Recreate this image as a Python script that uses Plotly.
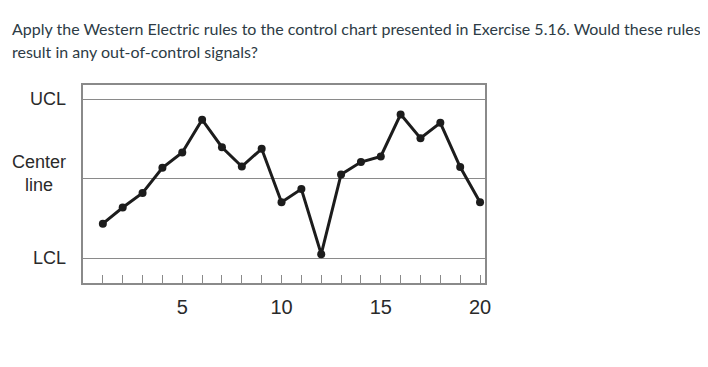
import plotly.graph_objects as go

samples = list(range(1, 21))
values = [-1.70, -1.09, -0.54, 0.41, 0.99, 2.23, 1.19, 0.46, 1.13, -0.89,
          -0.39, -2.85, 0.16, 0.63, 0.84, 2.43, 1.53, 2.11, 0.44, -0.89]
limit_vals = [-3, 0, 3]
limit_labels = ["LCL", "Center<br>line", "UCL"]
tick_vals = list(range(1, 21))
tick_text = [str(v) if v % 5 == 0 else "" for v in tick_vals]
title_lines = [
    "Apply the Western Electric rules to the control chart presented in Exercise 5.16. Would these rules",
    "result in any out-of-control signals?",
]

W, H = 708, 367
OFF = 8  # page body margin
# desired plot box in screen pixels: x 83..485, y 84.5..283
ML, MR, MT, MB = 83 - OFF, W - 485 + OFF, 85 - OFF, H - 283 + OFF
PW, PH = W - ML - MR, H - MT - MB

def px(x):
    return (x - OFF - ML) / PW

def py(y):
    return (H - MB - (y - OFF)) / PH

fig = go.Figure()
fig.add_trace(go.Scatter(
    x=samples, y=values, mode="lines+markers",
    line=dict(color="#1c1c1c", width=3),
    marker=dict(color="#1c1c1c", size=8),
    hoverinfo="skip", showlegend=False,
))

axis_font = "Liberation Sans, Arial, sans-serif"
fig.update_layout(
    width=W, height=H,
    margin=dict(l=ML, r=MR, t=MT, b=MB),
    paper_bgcolor="white", plot_bgcolor="white",
    xaxis=dict(
        range=[0, 20.25], tickmode="array", tickvals=tick_vals, ticktext=tick_text,
        ticks="inside", ticklen=8, tickcolor="#8a8a8a", tickwidth=1,
        showgrid=False, zeroline=False,
        showline=True, linecolor="#8a8a8a", linewidth=1.5, mirror=True,
        tickfont=dict(family=axis_font, size=20, color="#2a2a2a"),
        ticklabelstandoff=5,
    ),
    yaxis=dict(
        range=[-3.94, 3.54], tickmode="array", tickvals=limit_vals,
        showticklabels=False, ticks="",
        showgrid=True, gridcolor="#8a8a8a", gridwidth=1.2, zeroline=False,
        showline=True, linecolor="#8a8a8a", linewidth=1.5, mirror=True,
    ),
)

for v, lab in zip(limit_vals, limit_labels):
    fig.add_annotation(
        x=px(68), y=v, xref="paper", yref="y", text=lab, showarrow=False,
        xanchor="right", yanchor="middle", align="center",
        yshift=5 if "<br>" in lab else 0,
        font=dict(family=axis_font, size=18, color="#2a2a2a"),
    )

for line, yc in zip(title_lines, [28, 52]):
    fig.add_annotation(
        x=px(10), y=py(yc), xref="paper", yref="paper", text=line, showarrow=False,
        xanchor="left", yanchor="middle", align="left",
        font=dict(family="Lato, sans-serif", size=16, color="#2d3b45"),
    )

fig.write_html("out.html")
